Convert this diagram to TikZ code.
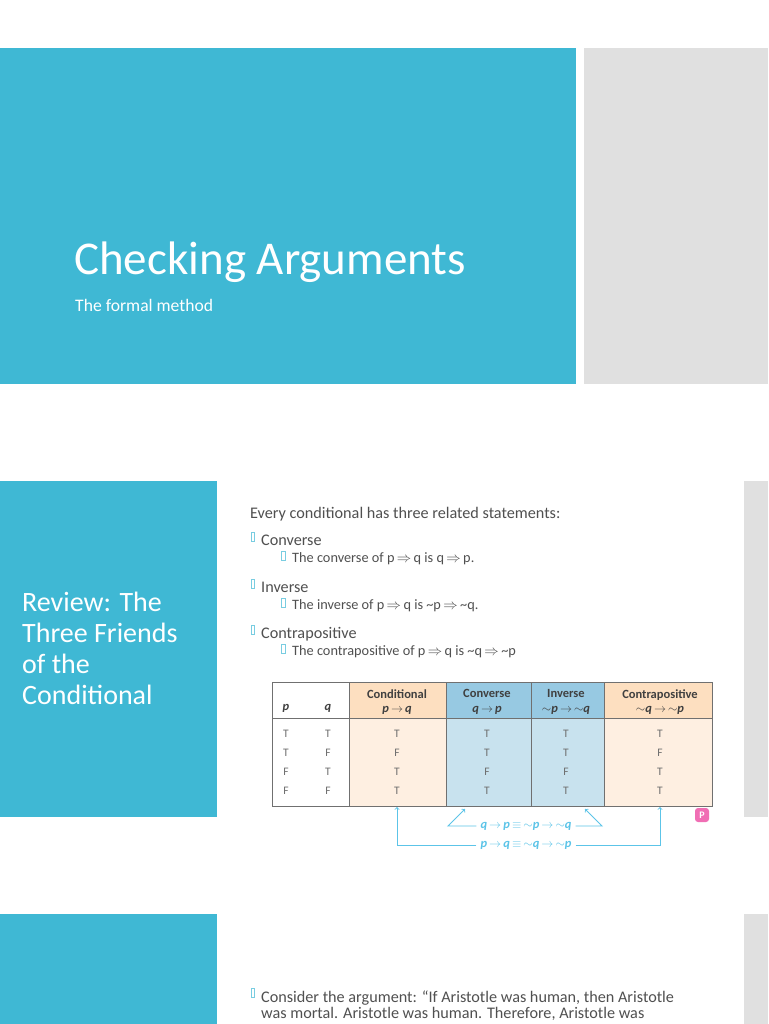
\documentclass[tikz,border=0pt]{standalone}
\usepackage{fontspec}
\setmainfont{Carlito}
\usepackage{amsmath,amssymb}
\usetikzlibrary{arrows,calc,positioning}

\definecolor{slideblue}{HTML}{3FB8D4}
\definecolor{sidegray}{HTML}{E0E0E0}
\definecolor{bodygray}{HTML}{505050}
\definecolor{cellgray}{HTML}{6E6E6E}
\definecolor{rulegray}{HTML}{707070}
\definecolor{headorange}{HTML}{FDDFC0}
\definecolor{cellorange}{HTML}{FEEFE1}
\definecolor{headblue}{HTML}{97C9E2}
\definecolor{cellblue}{HTML}{C8E2EE}
\definecolor{linkblue}{HTML}{5CC4E8}
\definecolor{badgepink}{HTML}{F06EB4}

\newcommand{\imp}{\,$\Rightarrow$\,}
\newcommand{\tld}{\textasciitilde}
\newcommand{\vbl}[1]{\textbf{\textit{#1}}}
\newcommand{\neglet}[1]{$\sim$\vbl{#1}}

\tikzset{
  slidetext/.style={anchor=base west,inner sep=0pt,text=white},
  lefttitle/.style={anchor=base west,inner sep=0pt,text=white,font=\fontsize{28}{32}\selectfont},
  bodyline/.style={anchor=base west,inner sep=0pt,text=bodygray,font=\fontsize{16.2}{18}\selectfont},
  subline/.style={anchor=base west,inner sep=0pt,text=bodygray,font=\fontsize{14.3}{16}\selectfont},
  bulletbox/.style={draw=slideblue!70,line width=0.8pt,fill=white,minimum width=3.5pt,minimum height=9pt,inner sep=0pt},
  headcell/.style={anchor=center,align=center,inner sep=0pt,text=black!75,font=\fontsize{12.5}{14.5}\selectfont\bfseries},
  valcell/.style={anchor=center,inner sep=0pt,text=cellgray,font=\fontsize{11.5}{13}\selectfont},
  linktext/.style={anchor=center,inner sep=0pt,inner xsep=4pt,text=linkblue,font=\fontsize{12.5}{13}\selectfont\bfseries},
  linkline/.style={draw=linkblue,line width=0.9pt},
  tablerule/.style={draw=rulegray,line width=1pt},
}

\begin{document}
\begin{tikzpicture}[x=1pt,y=-1pt]

  \useasboundingbox [fill=white] (0,0) rectangle (768,1024);

  % slide panels
  \fill [slideblue] (0,48) rectangle (576,384);
  \fill [sidegray] (584,48) rectangle (768,384);
  \fill [slideblue] (0,481) rectangle (217,817);
  \fill [sidegray] (744,481) rectangle (768,817);
  \fill [slideblue] (0,914) rectangle (217,1024);
  \fill [sidegray] (744,914) rectangle (768,1024);

  \node [slidetext,font=\fontsize{47}{50}\selectfont] (title) at (74,274) {Checking Arguments};
  \node [slidetext,font=\fontsize{17.6}{20}\selectfont] (subtitle) at (75,311) {The formal method};

  \node [lefttitle] (rev1) at (22,611) {Review: The};
  \node [lefttitle] (rev2) at (22,642) {Three Friends};
  \node [lefttitle] (rev3) at (22,673) {of the};
  \node [lefttitle] (rev4) at (22,704) {Conditional};

  % bullet text
  \node [bodyline] (intro) at (250,518) {Every conditional has three related statements:};

  \foreach \nm/\ya/\yb/\head/\rest in {
    conv/545/562/Converse/{The converse of p\imp q is q\imp p.},
    inv/592/609/Inverse/{The inverse of p\imp q is \tld p\imp\tld q.},
    contra/638/655/Contrapositive/{The contrapositive of p\imp q is \tld q\imp\tld p}} {
    \node [bodyline] (\nm) at (261,\ya) {\head};
    \node [subline] (\nm sub) at (292,\yb) {\rest};
    \node [bulletbox] at (253,\ya-8) {};
    \node [bulletbox] at (283.5,\yb-6.5) {};
  }

  % table fills
  \fill [headorange] (349,682) rectangle (446,718);
  \fill [cellorange] (349,718) rectangle (446,806);
  \fill [headblue] (446,682) rectangle (604,718);
  \fill [cellblue] (446,718) rectangle (604,806);
  \fill [headorange] (604,682) rectangle (712,718);
  \fill [cellorange] (604,718) rectangle (712,806);

  \draw [tablerule] (272,682) rectangle (712,806);
  \draw [tablerule] (272,718) -- (712,718);
  \foreach \xc in {349,446,531,604}
    \draw [tablerule] (\xc,682) -- (\xc,806);

  \node [headcell] (hp) at (286,708) {\vbl{p}};
  \node [headcell] (hq) at (328,708) {\vbl{q}};
  \node [headcell] (hcond) at (397,702) {Conditional\\\vbl{p}\,$\to$\,\vbl{q}};
  \node [headcell] (hconv) at (487,702) {Converse\\\vbl{q}\,$\to$\,\vbl{p}};
  \node [headcell] (hinv) at (566,702) {Inverse\\\neglet{p}\,$\to$\,\neglet{q}};
  \node [headcell] (hcontra) at (660,702) {Contrapositive\\\neglet{q}\,$\to$\,\neglet{p}};

  % truth values, one row per line
  \foreach \yc/\vp/\vq/\va/\vb/\vc/\vd in {
    734/T/T/T/T/T/T,
    753/T/F/F/T/T/F,
    772/F/T/T/F/F/T,
    791/F/F/T/T/T/T} {
    \node [valcell] at (286,\yc) {\vp};
    \node [valcell] at (328,\yc) {\vq};
    \node [valcell] at (397,\yc) {\va};
    \node [valcell] at (487,\yc) {\vb};
    \node [valcell] at (566,\yc) {\vc};
    \node [valcell] at (660,\yc) {\vd};
  }

  % links below the table
  \node [linktext] (eqa) at (526,826) {\vbl{q}\,$\to$\,\vbl{p}\,$\equiv$\,\neglet{p}\,$\to$\,\neglet{q}};
  \node [linktext] (eqb) at (526,845) {\vbl{p}\,$\to$\,\vbl{q}\,$\equiv$\,\neglet{q}\,$\to$\,\neglet{p}};

  \coordinate (conda) at (397,807);
  \coordinate (condb) at (397,845);
  \coordinate (contraa) at (660,807);
  \coordinate (contrab) at (660,845);
  \coordinate (conva) at (465,809);
  \coordinate (convb) at (448,826);
  \coordinate (inva) at (585,809);
  \coordinate (invb) at (602,826);

  \draw [linkline,->] (eqb.west) -- (condb) -- (conda);
  \draw [linkline,->] (eqb.east) -- (contrab) -- (contraa);
  \draw [linkline,->] (eqa.west) -- (convb) -- (conva);
  \draw [linkline,->] (eqa.east) -- (invb) -- (inva);

  \node [fill=badgepink,rounded corners=3pt,minimum size=14pt,inner sep=0pt,text=white,font=\fontsize{10}{10}\selectfont\bfseries] (badge) at (702,815) {P};

  % third slide
  \node [bodyline] (arga) at (261,1002) {Consider the argument: ``If Aristotle was human, then Aristotle};
  \node [bodyline] (argb) at (261,1018) {was mortal. Aristotle was human. Therefore, Aristotle was};
  \node [bulletbox] at (253,993) {};

\end{tikzpicture}
\end{document}
